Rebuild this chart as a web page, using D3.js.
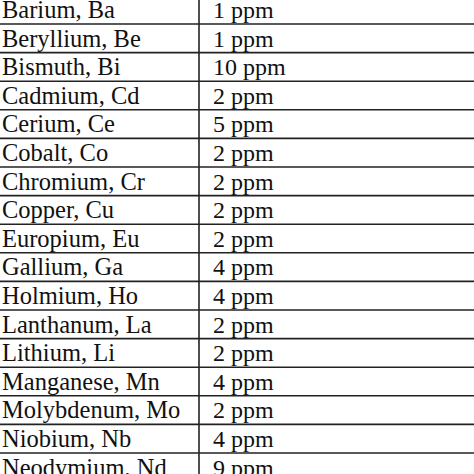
<!DOCTYPE html><html><head><script src="https://d3js.org/d3.v7.min.js"></script>
<style>body{margin:0;background:#fff}</style></head><body><script>
const elements=["Barium, Ba","Beryllium, Be","Bismuth, Bi","Cadmium, Cd","Cerium, Ce","Cobalt, Co","Chromium, Cr","Copper, Cu","Europium, Eu","Gallium, Ga","Holmium, Ho","Lanthanum, La","Lithium, Li","Manganese, Mn","Molybdenum, Mo","Niobium, Nb","Neodymium, Nd"];
const limits=["1 ppm","1 ppm","10 ppm","2 ppm","5 ppm","2 ppm","2 ppm","2 ppm","2 ppm","4 ppm","4 ppm","2 ppm","2 ppm","4 ppm","2 ppm","4 ppm","9 ppm"];
const svg=d3.select("body").append("svg").attr("width",474).attr("height",474);
const pitch=28.6;
const y=d3.scaleLinear().domain([0,1]).range([24-pitch,24]);
elements.forEach((e,i)=>{
  const bottom=y(i+1);
  svg.append("text").attr("x",2).attr("y",bottom-6).text(e).attr("font-family","Liberation Serif").attr("font-size",24.5).attr("fill","#111");
  svg.append("text").attr("x",213).attr("y",bottom-6).text(limits[i]).attr("font-family","Liberation Serif").attr("font-size",24).attr("fill","#111");
  if(bottom<474) svg.append("line").attr("x1",0).attr("x2",474).attr("y1",bottom).attr("y2",bottom).attr("stroke","#222").attr("stroke-width",1.6);
});
svg.append("line").attr("x1",199).attr("x2",199).attr("y1",0).attr("y2",474).attr("stroke","#222").attr("stroke-width",1.6);
</script></body></html>
